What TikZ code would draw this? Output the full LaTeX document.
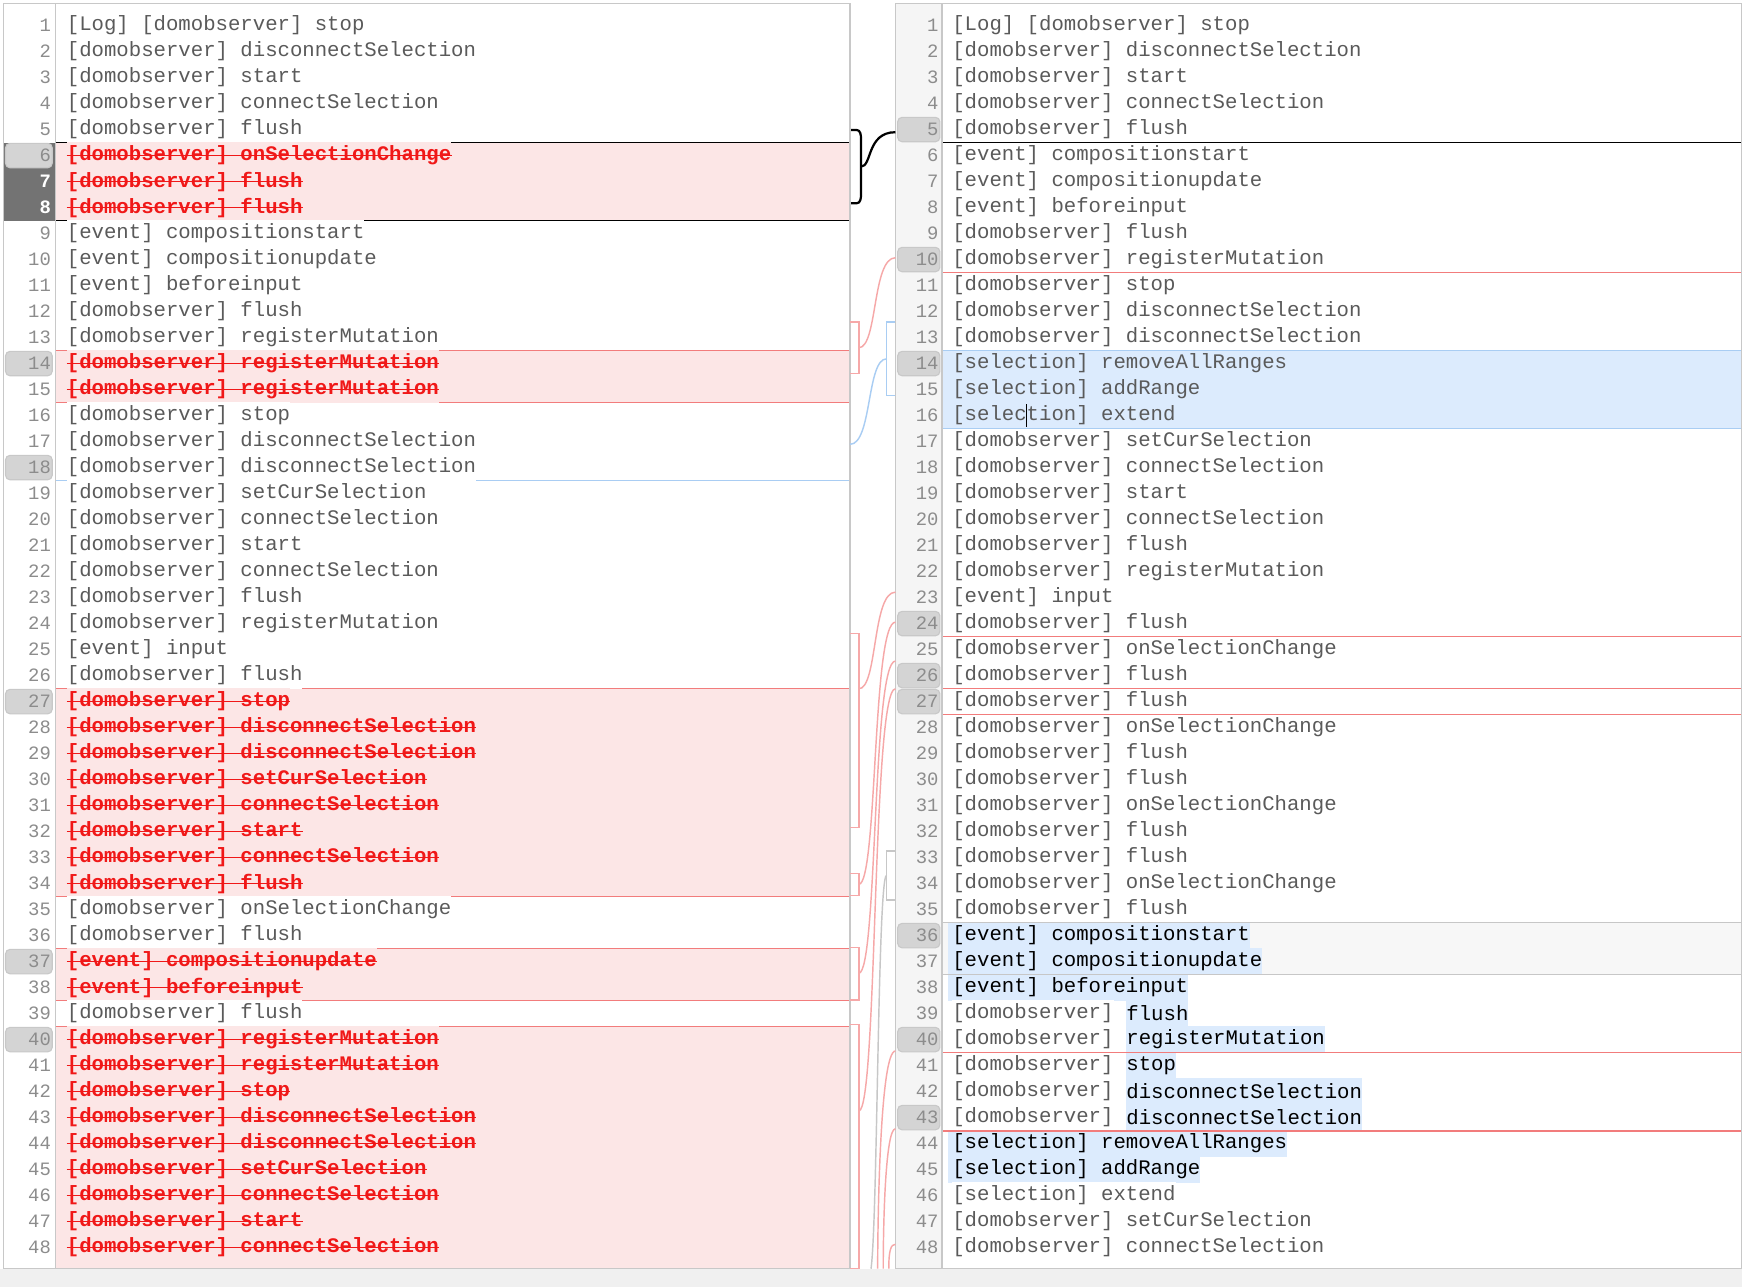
\documentclass[tikz,border=0pt]{standalone}
\usepackage{fontspec}
\setmonofont{Liberation Mono}
\definecolor{txtg}{HTML}{5A5A5A}
\definecolor{numg}{HTML}{8C8C8C}
\definecolor{delbg}{HTML}{FCE6E6}
\definecolor{delred}{HTML}{F01818}
\definecolor{redln}{HTML}{F27C7C}
\definecolor{curvred}{HTML}{F6A8A8}
\definecolor{bluebg}{HTML}{DCEBFD}
\definecolor{blueln}{HTML}{A9CDF3}
\definecolor{gutbg}{HTML}{F5F5F5}
\definecolor{frame}{HTML}{C8C8C8}
\tikzset{
 txt/.style={anchor=west,inner xsep=0pt,inner ysep=0pt,minimum height=24.2pt,font=\ttfamily\fontsize{18.6}{20}\selectfont,text=txtg},
 lnum/.style={anchor=east,inner sep=0pt,font=\ttfamily\fontsize{17}{20}\selectfont,text=numg},
 marker/.style={draw=frame,fill=black!17,rounded corners=4pt,line width=1pt},
 conn/.style={curvred,line width=1.3pt},
 bconn/.style={blueln,line width=1.3pt},
 gconn/.style={black!22,line width=1.3pt},
 sep/.style={redln,line width=1.6pt}
}
\newcommand\yof[1]{\pgfmathsetmacro\yy{23+(#1-1)*23.404}}
\newcommand\Lk[2]{\yof{#1}\node[lnum] (ln#1) at (46,\yy) {#1};\node[txt,fill=white] (l#1) at (60,\yy) {#2};}
\newcommand\Ld[2]{\yof{#1}\node[lnum] (ln#1) at (46,\yy) {#1};\node[txt,fill=delbg,text=delred,font=\ttfamily\bfseries\fontsize{18.6}{20}\selectfont] (l#1) at (60,\yy) {#2};\draw[delred,line width=1.4pt] (l#1.west)--(l#1.east);}
\newcommand\Rk[2]{\yof{#1}\node[lnum] (rn#1) at (845,\yy) {#1};\node[txt,fill=white] (r#1) at (857,\yy) {#2};}
\newcommand\Rb[2]{\yof{#1}\node[lnum] (rn#1) at (845,\yy) {#1};\node[txt,fill=bluebg] (r#1) at (857,\yy) {#2};}
\newcommand\Rw[2]{\yof{#1}\node[lnum] (rn#1) at (845,\yy) {#1};\node[txt,fill=bluebg,text=black] (r#1) at (853,\yy) {\hspace{4pt}#2};}
\newcommand\Rh[2]{\yof{#1}\node[lnum] (rn#1) at (845,\yy) {#1};\node[txt,fill=white] (r#1) at (857,\yy) {[domobserver]};\node[txt,fill=bluebg,text=black] (rw#1) at ([xshift=11.2pt]r#1.east) {#2};}
\newcommand\Lmark[1]{\yof{#1}\draw[marker] (5,\yy-11) rectangle (47,\yy+11);}
\newcommand\Rmark[1]{\yof{#1}\draw[marker] (808,\yy-11) rectangle (846,\yy+11);}
\newcommand\bnd[1]{23+(#1-0.5)*23.404}
\begin{document}
\begin{tikzpicture}[x=1pt,y=-1pt]
\useasboundingbox (0,0) rectangle (1568,1158);
\fill[white] (0,0) rectangle (1568,1158);
\fill[gutbg] (806,3) rectangle (848,1142);
\foreach \a/\b in {6/8,14/15,27/34,37/38,40/49}{
 \fill[delbg] (50,{\bnd{\a-1}}) rectangle (765,{min(1142,\bnd{\b})});}
\fill[black!55] (3,{\bnd{5}}) rectangle (50,{\bnd{8}});
\fill[bluebg] (848,{\bnd{13}}) rectangle (1568,{\bnd{16}});
\fill[black!3] (848,{\bnd{35}}) rectangle (1568,{\bnd{37}});
% left separators (covered by text)
\foreach \b in {13,15,26,34,36,38,39}{\draw[sep] (50,{\bnd{\b}})--(765,{\bnd{\b}});}
\draw[blueln,line width=1.3pt] (50,{\bnd{18}})--(765,{\bnd{18}});
\draw[black,line width=1.6pt] (50,{\bnd{5}})--(765,{\bnd{5}});
\draw[black,line width=1.6pt] (50,{\bnd{8}})--(765,{\bnd{8}});
\foreach \n in {6,14,18,27,37,40}{\Lmark{\n}}
\foreach \n in {5,10,14,24,26,27,36,40,43}{\Rmark{\n}}
\Lk{1}{[Log] [domobserver] stop}
\Lk{2}{[domobserver] disconnectSelection}
\Lk{3}{[domobserver] start}
\Lk{4}{[domobserver] connectSelection}
\Lk{5}{[domobserver] flush}
\Ld{6}{[domobserver] onSelectionChange}
\Ld{7}{[domobserver] flush}
\Ld{8}{[domobserver] flush}
\Lk{9}{[event] compositionstart}
\Lk{10}{[event] compositionupdate}
\Lk{11}{[event] beforeinput}
\Lk{12}{[domobserver] flush}
\Lk{13}{[domobserver] registerMutation}
\Ld{14}{[domobserver] registerMutation}
\Ld{15}{[domobserver] registerMutation}
\Lk{16}{[domobserver] stop}
\Lk{17}{[domobserver] disconnectSelection}
\Lk{18}{[domobserver] disconnectSelection}
\Lk{19}{[domobserver] setCurSelection}
\Lk{20}{[domobserver] connectSelection}
\Lk{21}{[domobserver] start}
\Lk{22}{[domobserver] connectSelection}
\Lk{23}{[domobserver] flush}
\Lk{24}{[domobserver] registerMutation}
\Lk{25}{[event] input}
\Lk{26}{[domobserver] flush}
\Ld{27}{[domobserver] stop}
\Ld{28}{[domobserver] disconnectSelection}
\Ld{29}{[domobserver] disconnectSelection}
\Ld{30}{[domobserver] setCurSelection}
\Ld{31}{[domobserver] connectSelection}
\Ld{32}{[domobserver] start}
\Ld{33}{[domobserver] connectSelection}
\Ld{34}{[domobserver] flush}
\Lk{35}{[domobserver] onSelectionChange}
\Lk{36}{[domobserver] flush}
\Ld{37}{[event] compositionupdate}
\Ld{38}{[event] beforeinput}
\Lk{39}{[domobserver] flush}
\Ld{40}{[domobserver] registerMutation}
\Ld{41}{[domobserver] registerMutation}
\Ld{42}{[domobserver] stop}
\Ld{43}{[domobserver] disconnectSelection}
\Ld{44}{[domobserver] disconnectSelection}
\Ld{45}{[domobserver] setCurSelection}
\Ld{46}{[domobserver] connectSelection}
\Ld{47}{[domobserver] start}
\Ld{48}{[domobserver] connectSelection}
\foreach \n in {7,8}{\node[lnum,text=white,font=\ttfamily\bfseries\fontsize{17}{20}\selectfont] at (ln\n.east) [anchor=east] {\n};}
\Rk{1}{[Log] [domobserver] stop}
\Rk{2}{[domobserver] disconnectSelection}
\Rk{3}{[domobserver] start}
\Rk{4}{[domobserver] connectSelection}
\Rk{5}{[domobserver] flush}
\Rk{6}{[event] compositionstart}
\Rk{7}{[event] compositionupdate}
\Rk{8}{[event] beforeinput}
\Rk{9}{[domobserver] flush}
\Rk{10}{[domobserver] registerMutation}
\Rk{11}{[domobserver] stop}
\Rk{12}{[domobserver] disconnectSelection}
\Rk{13}{[domobserver] disconnectSelection}
\Rb{14}{[selection] removeAllRanges}
\Rb{15}{[selection] addRange}
\Rb{16}{[selection] extend}
\Rk{17}{[domobserver] setCurSelection}
\Rk{18}{[domobserver] connectSelection}
\Rk{19}{[domobserver] start}
\Rk{20}{[domobserver] connectSelection}
\Rk{21}{[domobserver] flush}
\Rk{22}{[domobserver] registerMutation}
\Rk{23}{[event] input}
\Rk{24}{[domobserver] flush}
\Rk{25}{[domobserver] onSelectionChange}
\Rk{26}{[domobserver] flush}
\Rk{27}{[domobserver] flush}
\Rk{28}{[domobserver] onSelectionChange}
\Rk{29}{[domobserver] flush}
\Rk{30}{[domobserver] flush}
\Rk{31}{[domobserver] onSelectionChange}
\Rk{32}{[domobserver] flush}
\Rk{33}{[domobserver] flush}
\Rk{34}{[domobserver] onSelectionChange}
\Rk{35}{[domobserver] flush}
\Rw{36}{[event] compositionstart}
\Rw{37}{[event] compositionupdate}
\Rw{38}{[event] beforeinput}
\Rh{39}{flush}
\Rh{40}{registerMutation}
\Rh{41}{stop}
\Rh{42}{disconnectSelection}
\Rh{43}{disconnectSelection}
\Rw{44}{[selection] removeAllRanges}
\Rw{45}{[selection] addRange}
\Rk{46}{[selection] extend}
\Rk{47}{[domobserver] setCurSelection}
\Rk{48}{[domobserver] connectSelection}
\draw[black,line width=1.2pt] (924,{23+15*23.404-10})--(924,{23+15*23.404+10});
% right separators (over text)
\draw[black,line width=1.6pt] (848,{\bnd{5}})--(1568,{\bnd{5}});
\foreach \b in {10,24,26,27,40,43}{\draw[sep] (848,{\bnd{\b}})--(1568,{\bnd{\b}});}
\draw[blueln,line width=1.3pt] (848,{\bnd{13}})--(1568,{\bnd{13}});
\draw[blueln,line width=1.3pt] (848,{\bnd{16}})--(1568,{\bnd{16}});
\draw[black!22,line width=1.3pt] (848,{\bnd{35}})--(1568,{\bnd{35}});
\draw[black!22,line width=1.3pt] (848,{\bnd{37}})--(1568,{\bnd{37}});
% pane frames
\draw[frame,line width=1.2pt] (3,3) rectangle (765,1142);
\draw[frame,line width=1.2pt] (50,3)--(50,1142);
\draw[frame,line width=1.2pt] (806,3) rectangle (1568,1142);
\draw[frame,line width=1.2pt] (848,3)--(848,1142);
% connectors
\draw[black,line width=2pt] (766,117)--(771,117) to[out=0,in=90] (775,125)--(775,175) to[out=-90,in=0] (771,183)--(766,183);
\draw[black,line width=2pt] (775,150) .. controls (785,150) and (780,119) .. (806,119);
\foreach \t/\b/\m/\r in {290/336/313/232,570/745/620/533,786/806/796/560,853/900/876/595,922/1142/1000/620}{
 \draw[conn] (765,\t)--(773,\t)--(773,\b)--(765,\b);
 \draw[conn] (773,\m) .. controls (790,\m) and (785,\r) .. (806,\r);}
\draw[conn] (790,1142) .. controls (790,1100) and (792,946) .. (806,946);
\draw[conn] (795,1142) .. controls (795,1100) and (797,1016) .. (806,1016);
\draw[conn] (800,1142) .. controls (800,1125) and (802,1120) .. (806,1120);
\draw[bconn] (806,290)--(798,290)--(798,356)--(806,356);
\draw[bconn] (765,400) .. controls (785,400) and (780,323) .. (798,323);
\draw[gconn] (806,766)--(798,766)--(798,810)--(806,810);
\draw[gconn] (798,788) .. controls (790,788) and (790,1100) .. (784,1142);
\fill[black!6] (0,1142) rectangle (1568,1158);
\end{tikzpicture}
\end{document}
